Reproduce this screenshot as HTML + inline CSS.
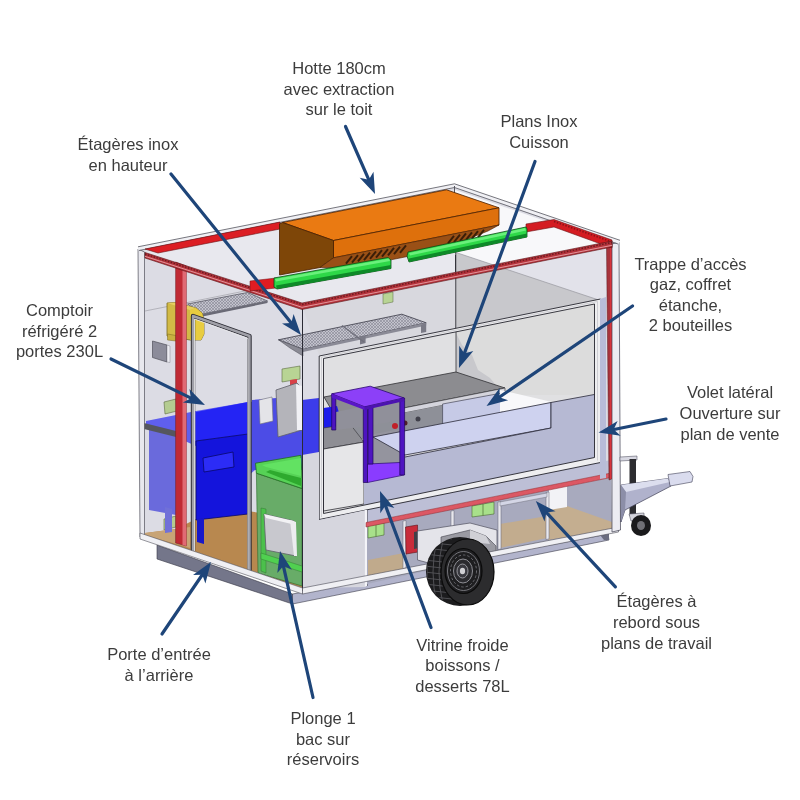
<!DOCTYPE html>
<html><head><meta charset="utf-8"><style>
html,body{margin:0;padding:0;background:#fff;}
svg{display:block;will-change:transform;}
text{font-family:"Liberation Sans",sans-serif;font-size:16.5px;fill:#3c3c3c;text-anchor:middle;}
</style></head><body>
<svg width="800" height="800" viewBox="0 0 800 800">
<defs><pattern id="grate" width="3" height="3" patternUnits="userSpaceOnUse"><rect width="3" height="3" fill="#c2c2cc"/><path d="M0 0L3 3M3 0L0 3" stroke="#7a7a88" stroke-width="0.5"/></pattern></defs>
<rect width="800" height="800" fill="#fff"/>
<polygon points="157.0,545.0 292.5,594.0 292.5,604.0 157.0,559.0" fill="#74768a" stroke="#3a3a48" stroke-width="0.6" stroke-linejoin="round" />
<polygon points="292.5,594.0 608.0,534.0 609.0,540.0 292.5,604.0" fill="#b2b4cc" stroke="#3a3a48" stroke-width="0.6" stroke-linejoin="round" />
<polygon points="600.0,535.0 609.0,533.0 609.0,540.0 604.0,540.0" fill="#6a6c80" />
<polygon points="138.0,249.0 455.0,186.0 619.0,242.0 620.0,530.0 302.0,591.0 140.0,537.0" fill="#dcdce4" />
<polygon points="145.0,252.0 455.0,190.0 612.0,244.0 302.0,305.0" fill="#e8e8ee" />
<polygon points="455.0,190.0 612.0,244.0 455.8,275.0" fill="#f8f8fa" />
<polygon points="455.8,275.0 612.0,244.0 606.0,298.0 597.5,299.6 455.8,252.4" fill="#e2e2ea" />
<polygon points="455.8,252.4 597.5,299.6 600.0,299.5 455.8,328.0" fill="#c8c8cc" />
<polygon points="302.0,305.0 455.8,275.0 455.8,328.0 319.0,355.0" fill="#d8d8de" />
<line x1="455.75" y1="252" x2="455.75" y2="330" stroke="#303036" stroke-width="0.9" stroke-linecap="butt" />
<line x1="455.75" y1="252.4" x2="597.5" y2="299.6" stroke="#9a9aa0" stroke-width="0.7" stroke-linecap="butt" />
<polygon points="145.0,256.0 302.0,309.0 302.0,588.0 145.0,535.0" fill="#dcdce4" />
<line x1="145" y1="311" x2="290" y2="282" stroke="#a8a8b0" stroke-width="0.8" stroke-linecap="butt" />
<polygon points="187.5,304.0 247.5,292.5 267.5,301.0 202.5,314.0" fill="url(#grate)" stroke="#5a5a66" stroke-width="0.8" stroke-linejoin="round" />
<polygon points="202.5,314.0 267.5,301.0 267.5,303.0 202.5,316.5" fill="#6a6a76" />
<polygon points="167.0,303.0 175.0,302.5 196.0,308.0 202.0,313.0 204.0,320.0 204.0,334.0 201.0,340.0 190.0,340.0 167.0,336.0" fill="#d2ba46" stroke="#7a6a20" stroke-width="0.8" stroke-linejoin="round" />
<polygon points="167.0,303.0 175.0,302.5 196.0,308.0 190.0,310.0" fill="#e6d060" />
<polygon points="190.0,310.0 196.0,308.0 202.0,313.0 204.0,320.0 204.0,334.0 201.0,340.0 190.0,340.0" fill="#e8cc40" />
<polygon points="167.5,334.0 176.0,335.5 176.0,341.0 167.5,340.0" fill="#c8b040" stroke="#7a6a20" stroke-width="0.5" stroke-linejoin="round" />
<polygon points="152.5,341.0 167.0,345.0 167.0,362.0 152.5,357.5" fill="#8c8c9a" stroke="#50505a" stroke-width="0.7" stroke-linejoin="round" />
<polygon points="167.0,345.0 170.0,346.0 170.0,362.5 167.0,362.0" fill="#ececf2" stroke="#70707a" stroke-width="0.4" stroke-linejoin="round" />
<polygon points="164.0,402.0 176.0,399.0 177.0,411.0 165.0,414.0" fill="#b4cc90" stroke="#5a6a40" stroke-width="0.6" stroke-linejoin="round" />
<polygon points="164.0,519.0 176.0,516.0 176.0,527.0 164.0,530.0" fill="#b4cc90" stroke="#5a6a40" stroke-width="0.6" stroke-linejoin="round" />
<polygon points="282.0,369.0 300.0,366.0 300.0,379.0 282.0,382.0" fill="#b8d494" stroke="#5a6a40" stroke-width="0.6" stroke-linejoin="round" />
<polygon points="290.0,380.0 297.0,379.0 297.0,392.0 290.0,393.0" fill="#d84048" />
<polygon points="146.0,421.0 196.0,411.0 248.0,402.0 302.0,398.0 302.0,470.0 255.0,470.0 248.0,476.0 196.0,446.0 176.0,437.0 146.0,424.0" fill="#5f5fee" />
<polygon points="149.0,429.0 176.0,436.0 176.0,515.0 149.0,510.0" fill="#6a6adc" />
<polygon points="144.0,423.0 176.0,431.0 176.0,437.0 144.0,429.0" fill="#55565e" />
<polygon points="252.0,400.0 302.0,396.0 302.0,470.0 252.0,470.0" fill="#4c4ce6" />
<polygon points="145.0,533.0 176.0,529.0 196.0,519.0 248.0,511.0 302.0,520.0 302.0,588.0 145.0,535.0" fill="#b8884f" />
<polygon points="145.0,533.0 176.0,529.0 190.0,527.0 190.0,548.0 145.0,535.0" fill="#c8a476" />
<polygon points="165.0,507.0 172.0,509.0 172.0,532.0 165.0,533.0" fill="#7070d8" />
<polygon points="196.0,412.0 248.0,402.0 248.0,434.0 196.0,441.0" fill="#2424f4" />
<polygon points="196.0,441.0 248.0,434.0 248.0,514.0 196.0,520.0" fill="#1414dc" stroke="#08086a" stroke-width="0.8" stroke-linejoin="round" />
<polygon points="203.0,458.0 233.0,452.0 234.0,467.0 204.0,472.0" fill="#2c2cf6" stroke="#08086a" stroke-width="0.8" stroke-linejoin="round" />
<polygon points="197.0,519.0 204.0,518.0 204.0,544.0 197.0,542.0" fill="#1818c8" />
<polygon points="259.0,400.0 272.0,397.0 273.0,421.0 260.0,424.0" fill="#e4e4e8" stroke="#70707a" stroke-width="0.6" stroke-linejoin="round" />
<polygon points="276.0,390.0 297.0,383.0 302.0,388.0 302.0,430.0 278.0,437.0" fill="#b4b4ba" stroke="#60606a" stroke-width="0.8" stroke-linejoin="round" />
<polygon points="296.0,384.0 302.0,386.0 302.0,430.0 297.0,430.0" fill="#f0f0f4" />
<polygon points="256.4,473.2 302.0,488.5 302.0,586.0 258.0,573.0" fill="#68ac68" stroke="#2a6a2a" stroke-width="0.6" stroke-linejoin="round" />
<polygon points="255.5,463.2 301.0,455.3 302.0,478.5 302.0,488.5 256.4,473.2" fill="#56d256" stroke="#1e6a1e" stroke-width="0.8" stroke-linejoin="round" />
<polygon points="262.0,465.0 301.0,458.0 301.0,476.0 266.0,467.0" fill="#62e262" />
<polygon points="270.0,470.0 301.0,478.0 301.0,486.0 266.0,472.0" fill="#2eaa2e" />
<polygon points="261.0,508.0 266.0,509.0 266.0,573.0 261.0,571.0" fill="#4cc04c" stroke="#2a6a2a" stroke-width="0.4" stroke-linejoin="round" />
<polygon points="261.0,553.0 302.0,566.0 302.0,572.0 261.0,559.0" fill="#50d050" stroke="#2a6a2a" stroke-width="0.4" stroke-linejoin="round" />
<polygon points="264.0,514.0 294.0,521.0 296.0,556.0 266.0,550.0" fill="#c8c8ce" stroke="#60606a" stroke-width="0.8" stroke-linejoin="round" />
<polygon points="264.0,514.0 294.0,521.0 296.0,525.0 266.0,518.0" fill="#f2f2f4" />
<polygon points="290.0,520.0 296.0,522.0 297.0,556.0 294.0,556.0" fill="#ececf0" />
<polygon points="278.5,339.8 401.8,314.2 426.2,322.8 303.0,349.3" fill="url(#grate)" stroke="#4a4a56" stroke-width="0.9" stroke-linejoin="round" />
<polygon points="303.0,349.3 426.2,322.8 426.2,325.5 303.0,352.0" fill="#8a8a96" />
<polygon points="278.5,339.8 303.0,349.3 303.0,356.0 290.0,348.0" fill="#8a8a94" stroke="#4a4a54" stroke-width="0.5" stroke-linejoin="round" />
<polygon points="360.0,337.0 365.6,335.5 365.6,343.0 360.0,344.5" fill="#7a7a86" />
<polygon points="421.0,325.0 426.2,323.0 426.2,332.0 421.0,333.0" fill="#7a7a86" />
<line x1="342" y1="325.5" x2="364" y2="342" stroke="#70707c" stroke-width="1.4" stroke-linecap="butt" />
<polygon points="383.0,294.0 393.0,292.0 393.0,302.0 383.0,304.0" fill="#b8d494" stroke="#5a6a40" stroke-width="0.5" stroke-linejoin="round" />
<polyline points="193.0,551.0 193.0,316.0 249.5,336.0 249.5,572.0" fill="none" stroke="#2c2c34" stroke-width="4.4" stroke-linejoin="round" />
<polyline points="193.0,551.0 193.0,316.0 249.5,336.0 249.5,572.0" fill="none" stroke="#a0a0a8" stroke-width="2.4" stroke-linejoin="round" />
<polyline points="194.5,551.0 194.5,319.0 248.0,338.5 248.0,572.0" fill="none" stroke="#e6e6ea" stroke-width="0.9" stroke-linejoin="round" />
<polygon points="175.6,262.0 186.3,266.0 186.3,546.0 175.6,543.0" fill="#c02a34" stroke="#6a1a20" stroke-width="0.5" stroke-linejoin="round" />
<polygon points="182.5,264.5 186.3,266.0 186.3,546.0 182.5,545.0" fill="#e06a74" />
<polygon points="138.0,249.0 144.5,252.0 144.5,535.0 140.0,537.0" fill="#e8e8ee" stroke="#50505a" stroke-width="0.7" stroke-linejoin="round" />
<polygon points="140.0,533.0 302.5,588.0 302.5,594.0 140.0,539.0" fill="#f0f0f4" stroke="#50505a" stroke-width="0.6" stroke-linejoin="round" />
<polygon points="302.0,400.0 319.0,398.0 319.0,455.0 302.0,455.0" fill="#3c3cea" />
<polygon points="323.5,358.5 597.0,303.0 597.0,460.0 323.5,515.0" fill="#e0e0e2" />
<polygon points="456.0,330.0 597.0,302.0 597.0,395.0 456.0,395.0" fill="#dcdcdc" />
<polygon points="456.0,333.0 462.0,345.0 472.0,355.0 478.0,370.0 490.0,378.0 500.0,390.0 456.0,380.0" fill="#c8c8cc" />
<line x1="456" y1="330" x2="456" y2="373" stroke="#303036" stroke-width="0.8" stroke-linecap="butt" />
<polygon points="324.0,397.0 456.0,372.0 505.0,388.0 338.0,421.0" fill="#8c8c90" stroke="#303034" stroke-width="0.8" stroke-linejoin="round" />
<polygon points="338.0,421.0 505.0,388.0 505.0,393.0 338.0,426.0" fill="#d4d4dc" stroke="#303034" stroke-width="0.6" stroke-linejoin="round" />
<polygon points="338.0,426.0 505.0,393.0 500.0,418.0 372.0,437.0 338.0,444.0" fill="#8e9098" />
<polygon points="442.6,404.0 502.0,393.0 502.0,418.0 442.6,429.0" fill="#c6cae6" stroke="#303040" stroke-width="0.6" stroke-linejoin="round" />
<polygon points="362.0,440.0 400.0,433.0 400.0,444.0 362.0,451.0" fill="#8a8a94" />
<circle cx="395" cy="426" r="3" fill="#c02028"/>
<circle cx="405" cy="423" r="2.5" fill="#50202a"/>
<circle cx="418" cy="419" r="2.5" fill="#40404a"/>
<polygon points="500.0,390.0 552.0,402.0 500.0,412.0" fill="#f8f8fa" />
<polygon points="323.5,408.0 337.0,406.0 340.0,416.0 337.0,428.0 323.5,430.0" fill="#1c1cea" />
<polygon points="323.5,428.0 350.0,424.0 364.0,442.0 323.5,449.0" fill="#8e8e94" stroke="#303036" stroke-width="0.6" stroke-linejoin="round" />
<polygon points="323.5,449.0 364.0,442.0 364.0,504.0 323.5,511.0" fill="#e6e6e8" stroke="#303036" stroke-width="0.8" stroke-linejoin="round" />
<polygon points="364.0,436.0 405.0,428.0 405.0,475.0 367.5,464.0" fill="#94949e" />
<polygon points="373.0,437.0 551.0,402.5 551.0,428.0 405.0,455.0" fill="#ced2ef" stroke="#2a2a38" stroke-width="0.8" stroke-linejoin="round" />
<polygon points="405.0,457.0 551.0,428.0 551.0,402.5 597.0,394.0 597.0,460.0 364.0,505.0 364.0,482.0 405.0,475.0" fill="#b6b9d3" />
<line x1="405" y1="457" x2="551" y2="428" stroke="#2a2a38" stroke-width="0.8" stroke-linecap="butt" />
<line x1="551" y1="402.5" x2="551" y2="428" stroke="#2a2a38" stroke-width="0.8" stroke-linecap="butt" />
<line x1="551" y1="402.5" x2="597" y2="394" stroke="#2a2a38" stroke-width="0.8" stroke-linecap="butt" />
<polygon points="336.0,412.0 364.0,406.0 400.0,398.0 400.0,420.0 368.0,426.0 336.0,430.0" fill="#90909a" />
<polygon points="367.5,464.0 400.0,462.5 404.0,475.0 367.5,482.5" fill="#8a3cff" stroke="#2a0870" stroke-width="0.7" stroke-linejoin="round" />
<polygon points="331.7,394.0 335.8,394.0 335.8,430.0 331.7,430.0" fill="#4e14c0" stroke="#20065a" stroke-width="0.7" stroke-linejoin="round" />
<polygon points="368.0,406.0 373.0,406.0 373.0,464.0 368.0,464.0" fill="#4e14c0" stroke="#20065a" stroke-width="0.7" stroke-linejoin="round" />
<polygon points="363.3,406.0 367.5,406.0 367.5,482.5 363.3,482.5" fill="#4e14c0" stroke="#20065a" stroke-width="0.7" stroke-linejoin="round" />
<polygon points="399.8,398.0 404.6,398.0 404.6,475.0 399.8,475.0" fill="#4e14c0" stroke="#20065a" stroke-width="0.7" stroke-linejoin="round" />
<polygon points="331.7,393.8 370.2,386.2 403.9,397.9 364.7,406.8" fill="#8c40f8" stroke="#2a0870" stroke-width="0.8" stroke-linejoin="round" />
<polygon points="331.7,393.8 364.7,406.8 364.7,410.0 331.7,397.5" fill="#5a16c8" />
<polygon points="364.7,406.8 403.9,397.9 404.6,401.0 364.7,410.0" fill="#4c12b0" />
<polygon points="319.0,519.0 600.0,462.0 611.0,460.0 611.0,473.0 366.0,522.5 319.0,530.0" fill="#bdbfd6" />
<path d="M319.2,356.0 L600.5,299.0 L600.5,462.5 L319.2,519.5 Z M323.5,358.5 L594.5,304.0 L594.5,457.5 L323.5,513.5 Z" fill="#eeeef0" fill-rule="evenodd" stroke="#24242c" stroke-width="0.9"/>
<polyline points="321.5,517.0 321.5,357.2 597.5,301.5 597.5,460.5" fill="none" stroke="#b8b8c0" stroke-width="0.6" stroke-linejoin="round" />
<polygon points="302.0,455.0 319.0,452.0 319.0,520.0 366.0,510.0 366.0,587.0 302.0,588.0" fill="#d6d6de" />
<line x1="302.5" y1="305" x2="302.5" y2="591" stroke="#2a2a34" stroke-width="1" stroke-linecap="butt" />
<line x1="366" y1="510" x2="366" y2="586" stroke="#f4f4f8" stroke-width="2.2" stroke-linecap="butt" />
<line x1="367.5" y1="510" x2="367.5" y2="586" stroke="#50505a" stroke-width="0.6" stroke-linecap="butt" />
<polygon points="367.0,526.0 611.0,477.5 612.0,530.0 367.0,584.0" fill="#a8aabe" />
<polygon points="368.0,560.0 404.0,553.0 404.0,570.0 368.0,580.0" fill="#c0aa8c" />
<polygon points="500.0,524.0 547.0,516.0 547.0,538.0 500.0,548.0" fill="#c2ac8e" />
<polygon points="548.0,505.0 567.0,506.0 612.0,522.0 612.0,529.0 548.0,540.0" fill="#c4ae90" />
<polygon points="549.0,489.0 567.0,486.0 567.0,507.0 549.0,510.0" fill="#f2f2f6" />
<polygon points="403.0,521.0 406.0,520.5 406.0,568.0 403.0,568.5" fill="#e8e8ee" stroke="#606070" stroke-width="0.5" stroke-linejoin="round" />
<polygon points="451.0,511.0 454.0,510.5 454.0,563.0 451.0,563.5" fill="#e8e8ee" stroke="#606070" stroke-width="0.5" stroke-linejoin="round" />
<polygon points="498.0,502.0 501.0,501.5 501.0,549.0 498.0,549.5" fill="#e8e8ee" stroke="#606070" stroke-width="0.5" stroke-linejoin="round" />
<polygon points="546.0,492.5 549.0,492.0 549.0,539.0 546.0,539.5" fill="#e8e8ee" stroke="#606070" stroke-width="0.5" stroke-linejoin="round" />
<polygon points="500.0,502.0 547.0,493.0 547.0,497.0 500.0,506.0" fill="#d4d6e6" stroke="#60606a" stroke-width="0.4" stroke-linejoin="round" />
<polygon points="368.0,526.0 384.0,523.0 384.0,535.0 368.0,538.0" fill="#a8e08a" stroke="#4a6a30" stroke-width="0.6" stroke-linejoin="round" />
<polygon points="472.0,506.0 494.0,502.0 494.0,514.0 472.0,517.0" fill="#a8e08a" stroke="#4a6a30" stroke-width="0.6" stroke-linejoin="round" />
<line x1="376" y1="524.5" x2="376" y2="536.5" stroke="#4a6a30" stroke-width="0.7" stroke-linecap="butt" />
<line x1="483" y1="504" x2="483" y2="515.5" stroke="#4a6a30" stroke-width="0.7" stroke-linecap="butt" />
<polygon points="405.5,527.0 417.5,525.0 418.0,552.0 406.0,554.0" fill="#c82c3a" stroke="#601018" stroke-width="0.6" stroke-linejoin="round" />
<polygon points="414.0,532.0 419.0,531.0 419.0,548.0 414.0,549.0" fill="#404048" />
<polygon points="417.5,531.0 470.0,523.0 497.0,530.0 497.0,554.0 440.0,566.0 417.5,560.0" fill="#e4e4ea" stroke="#50505e" stroke-width="0.7" stroke-linejoin="round" />
<polygon points="441.0,537.0 470.0,530.0 486.0,536.0 496.0,546.0 496.0,554.0 470.0,546.0 441.0,548.0" fill="#9a9aa2" stroke="#40404a" stroke-width="0.6" stroke-linejoin="round" />
<polygon points="470.0,530.0 486.0,536.0 490.0,544.0 470.0,542.0" fill="#d0d0d6" />
<polygon points="366.0,522.5 611.0,473.0 611.0,477.5 366.0,527.0" fill="#dc5864" stroke="#8a2a30" stroke-width="0.5" stroke-linejoin="round" />
<polygon points="302.5,588.0 618.5,527.0 618.5,532.0 302.5,594.0" fill="#f0f0f4" stroke="#4a4a56" stroke-width="0.6" stroke-linejoin="round" />
<polygon points="600.0,299.0 606.0,297.0 606.0,478.0 600.0,479.0" fill="#b8bcd8" />
<polygon points="606.5,246.0 614.0,244.0 614.0,478.0 609.0,480.0" fill="#a8343c" stroke="#5a1a20" stroke-width="0.5" stroke-linejoin="round" />
<polygon points="610.0,245.0 614.0,244.0 614.0,478.0 610.0,479.0" fill="#d8343c" />
<polygon points="612.0,244.0 619.0,242.0 620.5,530.0 612.0,532.0" fill="#ececf2" stroke="#404050" stroke-width="0.7" stroke-linejoin="round" />
<ellipse cx="460" cy="571.5" rx="34" ry="34.5" fill="#1c1c1e"/>
<clipPath id="tc"><ellipse cx="460" cy="571.5" rx="33" ry="33.5"/></clipPath><g clip-path="url(#tc)">
<line x1="424" y1="536" x2="452" y2="539" stroke="#56565a" stroke-width="0.9" stroke-linecap="butt" />
<line x1="424" y1="542" x2="452" y2="545" stroke="#56565a" stroke-width="0.9" stroke-linecap="butt" />
<line x1="424" y1="548" x2="452" y2="551" stroke="#56565a" stroke-width="0.9" stroke-linecap="butt" />
<line x1="424" y1="554" x2="452" y2="557" stroke="#56565a" stroke-width="0.9" stroke-linecap="butt" />
<line x1="424" y1="560" x2="452" y2="563" stroke="#56565a" stroke-width="0.9" stroke-linecap="butt" />
<line x1="424" y1="566" x2="452" y2="569" stroke="#56565a" stroke-width="0.9" stroke-linecap="butt" />
<line x1="424" y1="572" x2="452" y2="575" stroke="#56565a" stroke-width="0.9" stroke-linecap="butt" />
<line x1="424" y1="578" x2="452" y2="581" stroke="#56565a" stroke-width="0.9" stroke-linecap="butt" />
<line x1="424" y1="584" x2="452" y2="587" stroke="#56565a" stroke-width="0.9" stroke-linecap="butt" />
<line x1="424" y1="590" x2="452" y2="593" stroke="#56565a" stroke-width="0.9" stroke-linecap="butt" />
<line x1="424" y1="596" x2="452" y2="599" stroke="#56565a" stroke-width="0.9" stroke-linecap="butt" />
<line x1="424" y1="602" x2="452" y2="605" stroke="#56565a" stroke-width="0.9" stroke-linecap="butt" />
<path d="M431 540 Q423 572 431 604" fill="none" stroke="#56565a" stroke-width="0.9"/>
<path d="M437 540 Q429 572 437 604" fill="none" stroke="#56565a" stroke-width="0.9"/>
<path d="M443 540 Q435 572 443 604" fill="none" stroke="#56565a" stroke-width="0.9"/>
</g>
<ellipse cx="467.5" cy="572" rx="26.5" ry="33" fill="#2c2c2e" stroke="#0c0c0c" stroke-width="1.2"/>
<ellipse cx="463.5" cy="571" rx="18.5" ry="22.5" fill="#1e1e20" stroke="#0a0a0a" stroke-width="1.2"/>
<ellipse cx="463.5" cy="571" rx="16" ry="19.5" fill="none" stroke="#8a8a90" stroke-width="0.8"/>
<ellipse cx="463.5" cy="571" rx="13" ry="16" fill="none" stroke="#6a6a70" stroke-width="1" stroke-dasharray="2.5 2"/>
<ellipse cx="463" cy="571" rx="9.5" ry="12" fill="#2a2a2e" stroke="#9a9aa0" stroke-width="0.9"/>
<ellipse cx="462.5" cy="571" rx="5.5" ry="7" fill="#3a3a40" stroke="#b0b0b6" stroke-width="0.8"/>
<ellipse cx="462.5" cy="571" rx="2.6" ry="3.2" fill="#d0d0d4"/>
<polygon points="620.0,457.0 637.0,456.0 637.0,460.0 620.0,461.0" fill="#d8d8e2" stroke="#404050" stroke-width="0.5" stroke-linejoin="round" />
<polygon points="629.5,459.0 636.0,459.0 636.0,516.0 629.5,516.0" fill="#2c2c30" />
<polygon points="621.0,485.0 668.0,478.5 671.0,486.0 625.0,510.0 621.0,522.0" fill="#b0b2cc" stroke="#404056" stroke-width="0.7" stroke-linejoin="round" />
<polygon points="621.0,485.0 668.0,478.5 670.0,482.0 626.0,492.0" fill="#dcdeee" />
<polygon points="621.0,485.0 626.0,492.0 625.0,510.0 621.0,522.0" fill="#8c8ea8" />
<polygon points="668.0,474.5 690.0,471.5 693.0,476.5 692.0,482.0 670.0,486.0" fill="#dadcee" stroke="#404056" stroke-width="0.6" stroke-linejoin="round" />
<polygon points="629.0,514.0 644.0,513.0 644.0,520.0 631.0,521.0" fill="#d4d4dc" stroke="#404050" stroke-width="0.5" stroke-linejoin="round" />
<ellipse cx="641" cy="525.5" rx="10" ry="10.5" fill="#1a1a1c"/>
<ellipse cx="641" cy="525.5" rx="4" ry="4.5" fill="#707076"/>
<polyline points="138.0,248.5 454.5,185.5 619.5,242.0" fill="none" stroke="#f0f0f4" stroke-width="3.5" stroke-linejoin="round" />
<polyline points="138.0,246.8 454.5,183.8 620.0,240.3" fill="none" stroke="#55555e" stroke-width="0.8" stroke-linejoin="round" />
<polyline points="139.0,250.5 454.5,187.5 618.0,244.0" fill="none" stroke="#55555e" stroke-width="0.8" stroke-linejoin="round" />
<line x1="454.5" y1="186" x2="454.5" y2="195" stroke="#55555e" stroke-width="1" stroke-linecap="butt" />
<line x1="455.5" y1="255" x2="455.5" y2="272" stroke="#33333a" stroke-width="1" stroke-linecap="butt" />
<polygon points="145.0,249.0 280.0,222.0 280.0,229.0 158.0,253.0" fill="#dc1e24" stroke="#6a1014" stroke-width="0.6" stroke-linejoin="round" />
<polygon points="526.0,224.0 554.0,219.5 612.0,240.0 612.0,248.0 554.0,227.0 526.0,232.0" fill="#d41c22" stroke="#6a1014" stroke-width="0.6" stroke-linejoin="round" />
<polyline points="554.0,221.5 612.0,242.0" fill="none" stroke="#8a1418" stroke-width="1.5" stroke-linejoin="round" stroke-dasharray="1.5 1.5"/>
<polygon points="145.0,252.5 302.0,303.0 612.0,241.0 612.0,247.0 302.0,309.5 145.0,258.0" fill="#b4323a" stroke="#5a1418" stroke-width="0.6" stroke-linejoin="round" />
<polyline points="145.0,254.0 302.0,304.5 612.0,242.5" fill="none" stroke="#6a1a20" stroke-width="1.4" stroke-linejoin="round" stroke-dasharray="1.5 1.5"/>
<polyline points="145.0,256.3 302.0,307.3 612.0,245.3" fill="none" stroke="#e8a0a6" stroke-width="0.9" stroke-linejoin="round" />
<polygon points="250.0,281.0 276.0,278.0 276.0,288.0 250.0,291.0" fill="#e01c22" stroke="#6a1014" stroke-width="0.5" stroke-linejoin="round" />
<polygon points="282.5,222.5 446.5,189.8 499.0,207.8 333.5,240.5" fill="#ea7a12" stroke="#4a2000" stroke-width="0.8" stroke-linejoin="round" />
<polygon points="333.5,240.5 499.0,207.8 499.0,225.0 333.5,257.8" fill="#de700c" stroke="#4a2000" stroke-width="0.8" stroke-linejoin="round" />
<polygon points="282.5,222.5 333.5,240.5 333.5,257.8 320.0,267.5 279.5,275.0 279.5,224.0" fill="#7e4608" stroke="#4a2000" stroke-width="0.8" stroke-linejoin="round" />
<polygon points="320.0,267.5 333.5,257.8 499.0,225.0 488.0,231.0 440.0,250.0 350.0,268.0" fill="#9a5016" stroke="#4a2000" stroke-width="0.6" stroke-linejoin="round" />
<line x1="352" y1="256.20996978851963" x2="346" y2="263.70996978851963" stroke="#3a1e08" stroke-width="2" stroke-linecap="butt" />
<line x1="358" y1="255.01359516616316" x2="352" y2="262.51359516616316" stroke="#3a1e08" stroke-width="2" stroke-linecap="butt" />
<line x1="364" y1="253.81722054380666" x2="358" y2="261.3172205438067" stroke="#3a1e08" stroke-width="2" stroke-linecap="butt" />
<line x1="370" y1="252.62084592145015" x2="364" y2="260.12084592145015" stroke="#3a1e08" stroke-width="2" stroke-linecap="butt" />
<line x1="376" y1="251.42447129909365" x2="370" y2="258.9244712990936" stroke="#3a1e08" stroke-width="2" stroke-linecap="butt" />
<line x1="382" y1="250.22809667673715" x2="376" y2="257.72809667673715" stroke="#3a1e08" stroke-width="2" stroke-linecap="butt" />
<line x1="388" y1="249.03172205438065" x2="382" y2="256.5317220543807" stroke="#3a1e08" stroke-width="2" stroke-linecap="butt" />
<line x1="394" y1="247.83534743202418" x2="388" y2="255.33534743202418" stroke="#3a1e08" stroke-width="2" stroke-linecap="butt" />
<line x1="400" y1="246.63897280966768" x2="394" y2="254.13897280966768" stroke="#3a1e08" stroke-width="2" stroke-linecap="butt" />
<line x1="406" y1="245.44259818731118" x2="400" y2="252.94259818731118" stroke="#3a1e08" stroke-width="2" stroke-linecap="butt" />
<line x1="454" y1="235.87160120845923" x2="448" y2="243.37160120845923" stroke="#3a1e08" stroke-width="2" stroke-linecap="butt" />
<line x1="460" y1="234.67522658610272" x2="454" y2="242.17522658610272" stroke="#3a1e08" stroke-width="2" stroke-linecap="butt" />
<line x1="466" y1="233.47885196374622" x2="460" y2="240.97885196374622" stroke="#3a1e08" stroke-width="2" stroke-linecap="butt" />
<line x1="472" y1="232.28247734138972" x2="466" y2="239.78247734138972" stroke="#3a1e08" stroke-width="2" stroke-linecap="butt" />
<line x1="478" y1="231.08610271903322" x2="472" y2="238.58610271903322" stroke="#3a1e08" stroke-width="2" stroke-linecap="butt" />
<line x1="484" y1="229.88972809667675" x2="478" y2="237.38972809667675" stroke="#3a1e08" stroke-width="2" stroke-linecap="butt" />
<polygon points="274.0,278.0 388.0,257.5 391.0,260.0 391.0,268.5 277.0,289.0 274.0,287.0" fill="#2ed848" stroke="#0a4a14" stroke-width="0.8" stroke-linejoin="round" />
<polygon points="275.0,279.0 389.0,258.5 390.0,261.0 276.0,281.5" fill="#6af07c" />
<polygon points="276.0,285.5 391.0,265.0 391.0,268.5 277.0,289.0" fill="#0e8a28" />
<polygon points="408.0,252.0 526.0,227.0 527.0,229.0 527.0,237.0 409.0,262.0 407.0,256.0" fill="#2ed848" stroke="#0a4a14" stroke-width="0.8" stroke-linejoin="round" />
<polygon points="409.0,253.0 525.0,228.0 526.0,230.5 410.0,255.5" fill="#6af07c" />
<polygon points="409.0,258.5 527.0,233.5 527.0,237.0 409.0,262.0" fill="#0e8a28" />
<line x1="345.5" y1="126.5" x2="369.2" y2="180.7" stroke="#1e4579" stroke-width="3.2" stroke-linecap="round" />
<polygon points="375.0,194.0 359.7,177.8 368.8,179.8 373.5,171.8" fill="#1e4579" />
<line x1="171" y1="174" x2="291.9" y2="323.7" stroke="#1e4579" stroke-width="3.2" stroke-linecap="round" />
<polygon points="301.0,335.0 282.0,323.4 291.3,322.9 293.6,313.9" fill="#1e4579" />
<line x1="535" y1="161.5" x2="464.0" y2="354.4" stroke="#1e4579" stroke-width="3.2" stroke-linecap="round" />
<polygon points="459.0,368.0 459.2,345.7 464.4,353.5 473.3,350.9" fill="#1e4579" />
<line x1="632.5" y1="306" x2="498.5" y2="397.8" stroke="#1e4579" stroke-width="3.2" stroke-linecap="round" />
<polygon points="486.5,406.0 499.6,387.9 499.3,397.2 508.1,400.3" fill="#1e4579" />
<line x1="666" y1="419" x2="612.7" y2="429.7" stroke="#1e4579" stroke-width="3.2" stroke-linecap="round" />
<polygon points="598.5,432.5 617.6,421.0 613.7,429.5 620.6,435.7" fill="#1e4579" />
<line x1="111" y1="359" x2="192.0" y2="398.6" stroke="#1e4579" stroke-width="3.2" stroke-linecap="round" />
<polygon points="205.0,405.0 182.8,402.5 191.1,398.2 189.4,389.0" fill="#1e4579" />
<line x1="162" y1="634" x2="202.8" y2="574.0" stroke="#1e4579" stroke-width="3.2" stroke-linecap="round" />
<polygon points="211.0,562.0 205.4,583.6 202.3,574.8 193.0,575.1" fill="#1e4579" />
<line x1="313" y1="697.5" x2="283.2" y2="565.1" stroke="#1e4579" stroke-width="3.2" stroke-linecap="round" />
<polygon points="280.0,551.0 291.9,569.8 283.4,566.1 277.3,573.1" fill="#1e4579" />
<line x1="431" y1="627.5" x2="385.1" y2="504.6" stroke="#1e4579" stroke-width="3.2" stroke-linecap="round" />
<polygon points="380.0,491.0 394.4,508.0 385.4,505.5 380.3,513.3" fill="#1e4579" />
<line x1="615.4" y1="586.8" x2="545.6" y2="511.6" stroke="#1e4579" stroke-width="3.2" stroke-linecap="round" />
<polygon points="535.8,501.0 555.5,511.3 546.3,512.4 544.5,521.5" fill="#1e4579" />

<text x="339" y="73.75">Hotte 180cm</text>
<text x="339" y="94.5">avec extraction</text>
<text x="339" y="115">sur le toit</text>
<text x="128" y="150">Étagères inox</text>
<text x="128" y="170.5">en hauteur</text>
<text x="539" y="127.2">Plans Inox</text>
<text x="539" y="147.8">Cuisson</text>
<text x="690.5" y="269.5">Trappe d’accès</text>
<text x="690.5" y="290">gaz, coffret</text>
<text x="690.5" y="310.5">étanche,</text>
<text x="690.5" y="331">2 bouteilles</text>
<text x="730" y="398">Volet latéral</text>
<text x="730" y="419">Ouverture sur</text>
<text x="730" y="439.5">plan de vente</text>
<text x="59.5" y="316">Comptoir</text>
<text x="59.5" y="336.5">réfrigéré 2</text>
<text x="59.5" y="357">portes 230L</text>
<text x="159" y="660">Porte d’entrée</text>
<text x="159" y="680.5">à l’arrière</text>
<text x="323" y="724">Plonge 1</text>
<text x="323" y="745">bac sur</text>
<text x="323" y="764.7">réservoirs</text>
<text x="462.5" y="651">Vitrine froide</text>
<text x="462.5" y="671">boissons /</text>
<text x="462.5" y="691.5">desserts 78L</text>
<text x="656.5" y="607">Étagères à</text>
<text x="656.5" y="628">rebord sous</text>
<text x="656.5" y="648.7">plans de travail</text>

</svg>
</body></html>
